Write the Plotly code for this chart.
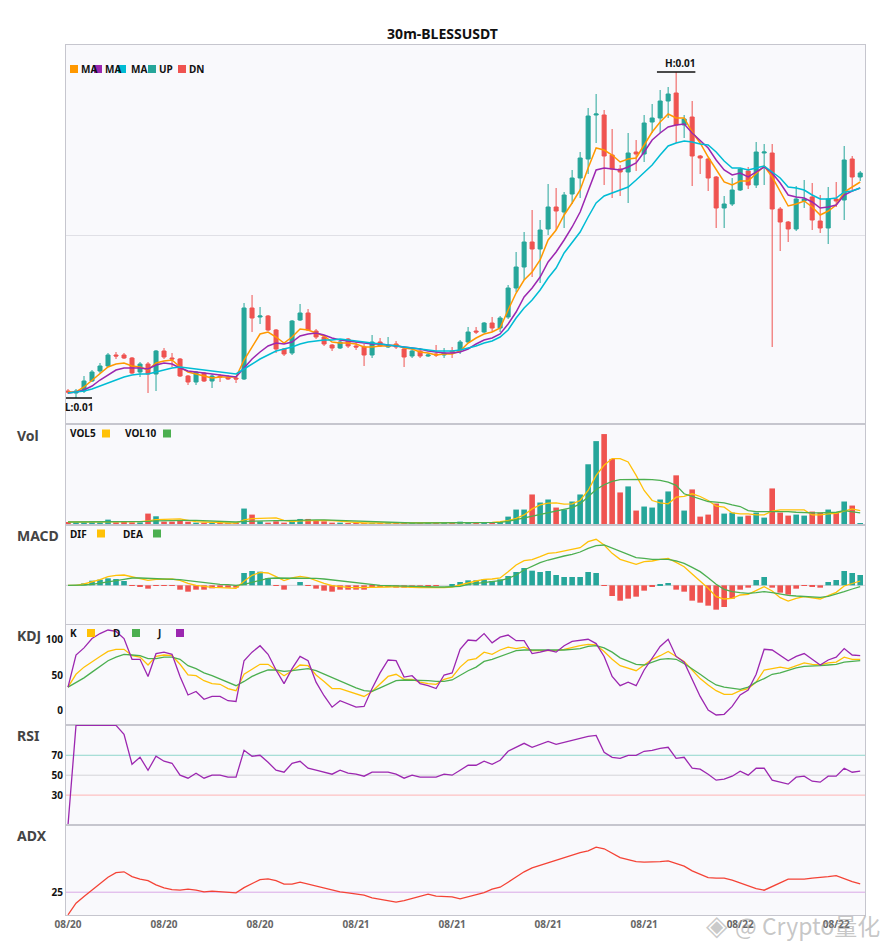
import numpy as np
import plotly.graph_objects as go
from plotly.subplots import make_subplots

# 30m candles of BLESSUSDT, prices in units of 1e-5
PRICE_UNIT = 1e-5

open_e5 = [961, 959, 961, 971, 981, 986, 997, 997, 994, 980,
           988, 978, 1001, 994, 993, 976, 970, 979, 971, 976,
           975, 974, 973, 1044, 1035, 1036, 1022, 1003, 999, 1032,
           1039, 1021, 1015, 1007, 1004, 1013, 1006, 1005, 997, 1010,
           1005, 1008, 1003, 996, 1001, 996, 998, 997, 1001, 1002,
           1010, 1021, 1020, 1029, 1024, 1035, 1064, 1085, 1110, 1103,
           1123, 1145, 1140, 1158, 1174, 1193, 1237, 1237, 1197, 1183,
           1180, 1200, 1198, 1230, 1234, 1251, 1259, 1227, 1235, 1196,
           1193, 1175, 1144, 1148, 1162, 1181, 1167, 1199, 1199, 1143,
           1130, 1123, 1151, 1155, 1131, 1124, 1153, 1152, 1193, 1175]
high_e5 = [963, 963, 976, 982, 989, 999, 1000, 999, 995, 990,
           990, 1002, 1004, 999, 994, 977, 981, 980, 978, 978,
           977, 976, 1049, 1057, 1045, 1037, 1023, 1004, 1032, 1048,
           1043, 1023, 1016, 1008, 1012, 1014, 1010, 1008, 1017, 1014,
           1015, 1011, 1005, 1003, 1004, 999, 1007, 1004, 1005, 1012,
           1025, 1025, 1030, 1035, 1036, 1067, 1100, 1120, 1142, 1132,
           1168, 1164, 1160, 1182, 1200, 1244, 1258, 1242, 1223, 1187,
           1219, 1212, 1237, 1248, 1262, 1265, 1280, 1237, 1251, 1197,
           1194, 1176, 1156, 1174, 1184, 1185, 1210, 1208, 1208, 1145,
           1131, 1166, 1172, 1169, 1157, 1165, 1170, 1206, 1196, 1181]
low_e5 = [958, 954, 959, 970, 979, 985, 993, 993, 978, 975,
          959, 961, 993, 985, 975, 967, 967, 970, 964, 970,
          972, 969, 972, 1020, 1028, 1021, 999, 996, 997, 1031,
          1021, 1013, 1006, 1001, 1003, 1004, 1002, 986, 994, 1005,
          1004, 1003, 985, 994, 994, 995, 995, 994, 994, 998,
          1009, 1018, 1019, 1020, 1020, 1033, 1060, 1072, 1075, 1069,
          1117, 1122, 1124, 1148, 1154, 1178, 1209, 1167, 1154, 1156,
          1149, 1181, 1190, 1219, 1219, 1234, 1209, 1214, 1166, 1178,
          1161, 1124, 1124, 1146, 1161, 1163, 1164, 1167, 1005, 1101,
          1110, 1121, 1144, 1122, 1119, 1108, 1145, 1132, 1162, 1171]
close_e5 = [960, 961, 971, 980, 986, 997, 996, 994, 979, 988,
            978, 1001, 995, 993, 976, 970, 980, 971, 976, 975,
            973, 973, 1044, 1034, 1036, 1022, 1003, 998, 1031, 1039,
            1022, 1015, 1008, 1004, 1010, 1006, 1005, 997, 1010, 1006,
            1006, 1005, 995, 1001, 996, 997, 997, 999, 1000, 1010,
            1020, 1020, 1029, 1024, 1034, 1064, 1085, 1110, 1103, 1122,
            1145, 1141, 1157, 1174, 1194, 1236, 1238, 1196, 1183, 1180,
            1199, 1198, 1229, 1234, 1251, 1258, 1227, 1233, 1196, 1194,
            1174, 1144, 1148, 1162, 1183, 1167, 1200, 1200, 1143, 1130,
            1123, 1153, 1153, 1132, 1124, 1153, 1151, 1192, 1175, 1179]

ma_a_e5 = [960, 960, 965, 972, 979, 985, 988, 989, 986, 985,
           982, 989, 991, 992, 985, 980, 978, 976, 974, 975,
           975, 975, 992, 1005, 1018, 1020, 1015, 1009, 1015, 1023,
           1022, 1019, 1016, 1010, 1009, 1009, 1008, 1005, 1005, 1006,
           1006, 1007, 1004, 1003, 1000, 999, 997, 998, 998, 1001,
           1009, 1014, 1018, 1020, 1024, 1042, 1059, 1072, 1080, 1092,
           1112, 1122, 1137, 1149, 1162, 1184, 1204, 1202, 1197, 1190,
           1193, 1194, 1207, 1220, 1230, 1238, 1234, 1234, 1220, 1209,
           1195, 1182, 1170, 1167, 1171, 1171, 1179, 1186, 1175, 1160,
           1146, 1148, 1151, 1145, 1137, 1141, 1147, 1160, 1165, 1170]
ma_b_e5 = [959, 960, 962, 966, 972, 977, 982, 984, 984, 984,
           983, 987, 989, 988, 984, 981, 980, 979, 978, 977,
           976, 975, 984, 993, 1000, 1006, 1009, 1008, 1010, 1016,
           1018, 1019, 1017, 1014, 1012, 1011, 1010, 1009, 1008, 1008,
           1007, 1006, 1005, 1004, 1003, 1001, 1000, 999, 999, 1000,
           1003, 1008, 1012, 1014, 1018, 1028, 1040, 1055, 1064, 1075,
           1090, 1100, 1112, 1125, 1140, 1160, 1182, 1184, 1183, 1182,
           1185, 1189, 1200, 1212, 1219, 1225, 1227, 1228, 1219, 1211,
           1204, 1192, 1182, 1177, 1179, 1175, 1180, 1185, 1179, 1169,
           1157, 1155, 1154, 1150, 1144, 1145, 1147, 1157, 1161, 1164]
ma_c_e5 = [959, 960, 961, 963, 966, 969, 972, 975, 977, 978,
           978, 980, 982, 984, 985, 984, 983, 982, 981, 980,
           979, 978, 983, 988, 993, 997, 1001, 1003, 1005, 1008,
           1010, 1011, 1012, 1012, 1013, 1012, 1011, 1010, 1009, 1008,
           1007, 1006, 1005, 1004, 1003, 1002, 1001, 1001, 1001, 1002,
           1004, 1006, 1009, 1011, 1015, 1022, 1034, 1044, 1052, 1062,
           1074, 1084, 1099, 1109, 1120, 1135, 1149, 1156, 1159, 1162,
           1165, 1172, 1180, 1187, 1197, 1206, 1209, 1211, 1210, 1208,
           1207, 1200, 1191, 1184, 1184, 1182, 1184, 1186, 1180, 1174,
           1165, 1164, 1162, 1157, 1153, 1153, 1154, 1160, 1161, 1164]

volume = [9, 8, 8, 8, 8, 16, 8, 9, 8, 8,
          34, 26, 10, 10, 12, 10, 7, 7, 7, 5,
          5, 5, 49, 31, 11, 7, 11, 7, 12, 18,
          18, 12, 11, 7, 7, 5, 5, 5, 5, 5,
          5, 5, 9, 5, 5, 5, 9, 5, 9, 10,
          9, 5, 9, 5, 9, 25, 46, 46, 91, 67,
          76, 52, 46, 70, 91, 181, 250, 271, 197, 97,
          115, 43, 55, 52, 76, 100, 148, 43, 106, 25,
          31, 64, 34, 37, 25, 28, 37, 22, 109, 37,
          28, 31, 28, 40, 37, 46, 37, 70, 58, 4]
vol5 = [9, 9, 9, 8, 8, 10, 10, 10, 10, 10,
        12, 16, 17, 17, 18, 14, 10, 9, 9, 7,
        6, 6, 15, 19, 20, 20, 21, 14, 10, 12,
        13, 13, 14, 13, 11, 8, 7, 6, 6, 6,
        6, 6, 6, 6, 6, 6, 7, 7, 7, 8,
        8, 8, 8, 8, 10, 13, 20, 30, 48, 60,
        65, 66, 62, 63, 73, 103, 148, 178, 198, 198,
        188, 148, 103, 73, 66, 63, 83, 85, 93, 85,
        73, 56, 53, 36, 33, 33, 30, 30, 41, 45,
        45, 45, 45, 30, 30, 33, 35, 41, 48, 43]
vol10 = [9, 9, 9, 9, 9, 9, 9, 9, 9, 9,
         11, 12, 13, 13, 14, 14, 14, 13, 13, 12,
         10, 9, 11, 12, 13, 13, 13, 13, 14, 15,
         15, 15, 15, 14, 14, 13, 12, 11, 9, 8,
         7, 6, 6, 6, 6, 6, 6, 6, 7, 7,
         7, 7, 7, 7, 8, 11, 16, 20, 26, 32,
         36, 42, 46, 52, 63, 86, 106, 120, 130, 135,
         136, 136, 136, 135, 133, 128, 118, 93, 86, 78,
         70, 68, 66, 60, 55, 43, 40, 40, 40, 41,
         40, 38, 36, 36, 36, 38, 38, 43, 40, 36]

macd_hist = [0, 0, 6, 14, 17, 21, 19, 13, -2, -4,
             -10, -1, -1, -1, -13, -19, -13, -13, -9, -7,
             -7, -7, 37, 43, 41, 22, -2, -13, 0, 10,
             -2, -10, -16, -19, -13, -13, -13, -13, -4, -4,
             -4, -7, -7, -7, -7, -4, -2, 0, 3, 10,
             15, 15, 18, 13, 18, 28, 40, 52, 44, 40,
             43, 31, 25, 25, 25, 40, 37, -2, -32, -46,
             -40, -34, -16, -5, 4, 7, -13, -19, -46, -52,
             -61, -73, -65, -40, -13, -7, 16, 25, -7, -22,
             -28, -10, -1, -4, -7, 10, 16, 43, 37, 31]
dif = [0, 0, 4, 10, 17, 26, 30, 31, 25, 20,
       15, 18, 19, 19, 15, 6, 0, -4, -6, -7,
       -8, -9, 12, 30, 39, 37, 26, 14, 22, 27,
       23, 14, 6, -1, -4, -6, -7, -7, -7, -6,
       -5, -4, -4, -6, -7, -7, -8, -7, -5, 2,
       7, 13, 18, 19, 22, 41, 61, 74, 77, 86,
       96, 98, 103, 108, 113, 131, 138, 121, 96, 78,
       70, 63, 71, 73, 78, 81, 69, 56, 34, 13,
       -9, -34, -41, -39, -29, -27, -15, -4, -17, -37,
       -47, -39, -34, -37, -41, -31, -21, -2, 5, 13]
dea = [0, 0, 1, 3, 6, 10, 14, 18, 22, 22,
       21, 20, 19, 19, 17, 14, 11, 8, 5, 3,
       2, 0, 3, 9, 17, 21, 22, 22, 22, 22,
       22, 21, 19, 16, 13, 10, 7, 4, 2, 0,
       -1, -2, -3, -3, -4, -5, -5, -5, -5, -3,
       3, 6, 9, 11, 14, 21, 31, 46, 58, 68,
       76, 83, 88, 93, 100, 111, 119, 121, 111, 101,
       91, 83, 81, 78, 78, 78, 73, 66, 54, 41,
       23, 3, -12, -19, -22, -24, -22, -19, -22, -27,
       -30, -32, -34, -35, -36, -33, -27, -19, -11, -4]

kdj_k = [33, 51, 61, 69, 76, 83, 86, 86, 77, 75,
         64, 76, 78, 77, 65, 50, 49, 42, 38, 37,
         31, 28, 51, 58, 65, 65, 57, 49, 56, 64,
         63, 50, 41, 31, 31, 27, 23, 20, 27, 37,
         48, 51, 44, 44, 40, 38, 37, 44, 47, 61,
         71, 73, 82, 79, 85, 89, 87, 89, 84, 84,
         84, 84, 86, 89, 91, 93, 92, 83, 72, 63,
         59, 56, 64, 72, 77, 83, 76, 69, 57, 45,
         36, 28, 23, 23, 28, 31, 40, 57, 59, 61,
         59, 63, 67, 65, 64, 67, 68, 75, 72, 72]
kdj_d = [33, 39, 46, 54, 62, 70, 75, 79, 78, 77,
         73, 73, 75, 75, 72, 63, 59, 53, 49, 44,
         40, 35, 41, 48, 53, 57, 57, 55, 56, 58,
         59, 56, 51, 46, 42, 37, 32, 28, 27, 32,
         37, 42, 43, 43, 43, 42, 41, 41, 43, 50,
         56, 61, 69, 72, 76, 80, 84, 85, 85, 85,
         85, 84, 85, 86, 87, 90, 91, 88, 82, 74,
         69, 65, 64, 68, 72, 73, 72, 66, 59, 51,
         43, 36, 33, 31, 30, 33, 40, 45, 51, 53,
         57, 60, 62, 62, 63, 64, 65, 68, 69, 70]
kdj_j = [33, 78, 88, 101, 108, 113, 111, 101, 72, 72,
         48, 80, 82, 79, 48, 22, 27, 16, 20, 20,
         14, 13, 70, 82, 91, 79, 57, 38, 59, 76,
         70, 40, 21, 5, 14, 10, 5, 6, 31, 53,
         71, 70, 47, 49, 38, 35, 31, 50, 53, 86,
         99, 98, 108, 95, 103, 106, 98, 98, 80, 82,
         85, 82, 91, 97, 99, 100, 94, 76, 48, 35,
         40, 35, 57, 73, 90, 100, 76, 68, 43, 20,
         1, -6, -5, 6, 22, 29, 51, 86, 85, 78,
         70, 76, 80, 72, 64, 71, 75, 87, 78, 77]

rsi = [0, 100, 100, 100, 100, 100, 100, 91, 61, 68,
       55, 69, 64, 62, 50, 47, 52, 47, 50, 50,
       48, 48, 75, 69, 70, 63, 55, 53, 62, 64,
       57, 55, 53, 51, 55, 52, 51, 49, 53, 53,
       53, 51, 47, 50, 48, 48, 48, 51, 50, 55,
       60, 60, 64, 61, 65, 74, 78, 82, 78, 81,
       84, 81, 83, 85, 87, 89, 90, 73, 68, 67,
       70, 70, 74, 75, 77, 78, 67, 68, 57, 56,
       51, 45, 46, 49, 54, 50, 57, 57, 45, 43,
       41, 48, 49, 44, 43, 49, 49, 57, 53, 54]

adx = [13.7, 19.5, 22.8, 26.2, 29.5, 32.5, 34.8, 35.2, 32.8, 31.5,
       30.8, 28.7, 27.2, 26.3, 26.0, 26.5, 26.0, 25.2, 25.5, 25.2,
       24.7, 24.7, 27.3, 29.5, 31.3, 31.7, 30.8, 29.0, 29.0, 30.0,
       29.0, 28.3, 27.0, 26.0, 25.2, 24.7, 24.2, 23.5, 22.2, 21.5,
       20.5, 20.0, 20.8, 21.8, 22.8, 24.0, 23.0, 22.7, 22.7, 21.7,
       22.8, 23.8, 24.8, 26.5, 27.5, 30.0, 32.7, 35.2, 37.2, 38.5,
       39.8, 41.2, 42.5, 43.8, 44.8, 45.7, 47.5, 46.7, 44.3, 42.3,
       41.3, 40.3, 40.0, 40.0, 40.3, 40.7, 39.2, 38.0, 35.7, 33.8,
       32.3, 32.0, 32.0, 31.0, 29.5, 28.3, 26.8, 26.0, 27.8, 29.8,
       31.5, 31.5, 31.5, 32.0, 32.3, 32.8, 33.3, 31.7, 30.3, 29.2]

# one label every 12 candles (6 hours)
tick_text = ["08/20", "08/20", "08/20", "08/21", "08/21",
             "08/21", "08/21", "08/22", "08/22"]

UP = "#26a69a"
DN = "#ef5350"
FONT = "Noto Sans"

o = np.array(open_e5) * PRICE_UNIT
h = np.array(high_e5) * PRICE_UNIT
l = np.array(low_e5) * PRICE_UNIT
c = np.array(close_e5) * PRICE_UNIT
x = list(range(len(c)))
tick_vals = list(range(0, len(c), 12))[:len(tick_text)]

# plot area in pixels: x 66..865, y 45..915
def px(v):
    return (v - 66) / 799.0

def py(v):
    return (915 - v) / 870.0

fig = make_subplots(rows=6, cols=1, shared_xaxes=True, vertical_spacing=0,
                    row_heights=[379, 101, 100, 100, 100, 90])

fig.add_trace(go.Candlestick(
    x=x, open=o, high=h, low=l, close=c, whiskerwidth=0,
    increasing=dict(line=dict(color=UP, width=1), fillcolor=UP),
    decreasing=dict(line=dict(color=DN, width=1), fillcolor=DN)), row=1, col=1)
for arr, col in [(ma_a_e5, "#ff9800"), (ma_b_e5, "#9c27b0"), (ma_c_e5, "#00bcd4")]:
    fig.add_trace(go.Scatter(x=x, y=np.array(arr) * PRICE_UNIT, mode="lines",
                             line=dict(color=col, width=1.5)), row=1, col=1)

vol_colors = [UP if cc >= oo else DN for oo, cc in zip(open_e5, close_e5)]
fig.add_trace(go.Bar(x=x, y=volume, marker=dict(color=vol_colors, line_width=0)), row=2, col=1)
fig.add_trace(go.Scatter(x=x, y=vol5, mode="lines", line=dict(color="#ffc107", width=1.3)), row=2, col=1)
fig.add_trace(go.Scatter(x=x, y=vol10, mode="lines", line=dict(color="#4caf50", width=1.3)), row=2, col=1)

macd_colors = [UP if v >= 0 else DN for v in macd_hist]
fig.add_trace(go.Bar(x=x, y=macd_hist, marker=dict(color=macd_colors, line_width=0)), row=3, col=1)
fig.add_trace(go.Scatter(x=x, y=dif, mode="lines", line=dict(color="#ffc107", width=1.3)), row=3, col=1)
fig.add_trace(go.Scatter(x=x, y=dea, mode="lines", line=dict(color="#4caf50", width=1.3)), row=3, col=1)

fig.add_trace(go.Scatter(x=x, y=kdj_k, mode="lines", line=dict(color="#ffc107", width=1.3)), row=4, col=1)
fig.add_trace(go.Scatter(x=x, y=kdj_d, mode="lines", line=dict(color="#4caf50", width=1.3)), row=4, col=1)
fig.add_trace(go.Scatter(x=x, y=kdj_j, mode="lines", line=dict(color="#9c27b0", width=1.3)), row=4, col=1)

fig.add_trace(go.Scatter(x=x, y=rsi, mode="lines", line=dict(color="#9c27b0", width=1.3)), row=5, col=1)
fig.add_trace(go.Scatter(x=x, y=adx, mode="lines", line=dict(color="#f44336", width=1.3)), row=6, col=1)

# reference levels
for row, lvl, col in [(3, 0, "#d4d4d8"),
                      (4, 100, "#8fd6cc"), (4, 50, "#d4d4d8"), (4, 0, "#ffb4b4"),
                      (5, 70, "#8fd6cc"), (5, 50, "#d4d4d8"), (5, 30, "#ffb4b4"),
                      (6, 25, "#d9a9e6")]:
    fig.add_hline(y=lvl, row=row, col=1, line_color=col, line_width=1, layer="below")

fig.update_xaxes(range=[-0.25, 99.6], rangeslider_visible=False, showgrid=False,
                 zeroline=False, showline=True, mirror=True, linecolor="#c6c6ce",
                 tickvals=tick_vals, ticktext=tick_text, ticks="",
                 tickfont=dict(family=FONT, size=10, color="#666", weight="bold"))

yax = dict(zeroline=False, showline=True, mirror=True, linecolor="#c6c6ce", ticks="",
           tickfont=dict(family=FONT, size=10, color="#111", weight="bold"))
fig.update_yaxes(range=[0.00928, 0.01307], tickvals=[0.01117], showticklabels=False,
                 showgrid=True, gridcolor="#e0e0e6", row=1, col=1, **yax)
fig.update_yaxes(range=[0, 301], showgrid=False, showticklabels=False, row=2, col=1, **yax)
fig.update_yaxes(range=[-119, 181], showgrid=False, showticklabels=False, row=3, col=1, **yax)
fig.update_yaxes(range=[-20, 120], tickvals=[0, 50, 100], showgrid=False, row=4, col=1, **yax)
fig.update_yaxes(range=[0, 100.4], tickvals=[30, 50, 70], showgrid=False, row=5, col=1, **yax)
fig.update_yaxes(range=[13.6, 58.6], tickvals=[25], showgrid=False, row=6, col=1, **yax)

ann = []

# panel names
for name, yc in [("Vol", 435), ("MACD", 535), ("KDJ", 635), ("RSI", 735), ("ADX", 835)]:
    ann.append(dict(text=name, x=px(15), y=py(yc), xref="paper", yref="paper",
                    xanchor="left", yanchor="middle", showarrow=False,
                    font=dict(family=FONT, size=14, color="#444", weight="bold")))

# legends: (label, text x, square x, y centre, colour)
legend_items = [
    ("MA", 79, 70, 69, "#ff9800"), ("MA", 103, 94, 69, "#9c27b0"),
    ("MA", 129, 118, 69, "#00bcd4"), ("UP", 157, 148, 69, UP), ("DN", 187, 178, 69, DN),
    ("VOL5", 68, 102, 433.5, "#ffc107"), ("VOL10", 123, 163, 433.5, "#4caf50"),
    ("DIF", 68, 97, 533.5, "#ffc107"), ("DEA", 121, 153, 533.5, "#4caf50"),
    ("K", 68, 87, 633, "#ffc107"), ("D", 111, 132, 633, "#4caf50"), ("J", 155, 176, 633, "#9c27b0"),
]
for label, tx, sx, yc, col in legend_items:
    ann.append(dict(text=label, x=px(tx), y=py(yc), xref="paper", yref="paper",
                    xanchor="left", yanchor="middle", showarrow=False,
                    font=dict(family=FONT, size=10, color="#111", weight="bold")))
    fig.add_shape(type="rect", xref="paper", yref="paper", x0=px(sx), x1=px(sx + 8),
                  y0=py(yc + 4), y1=py(yc - 4), fillcolor=col, line_width=0)

# highest high / lowest low markers
hi_i = int(np.argmax(h))
lo_i = int(np.argmin(l))
fig.add_shape(type="line", xref="x", yref="y", x0=hi_i - 2.4, x1=hi_i + 2.4,
              y0=h[hi_i], y1=h[hi_i], line=dict(color="#111", width=1.5))
ann.append(dict(text=f"H:{h[hi_i]:.2f}", x=hi_i + 0.5, y=h[hi_i], xref="x", yref="y",
                xanchor="center", yanchor="bottom", showarrow=False,
                font=dict(family=FONT, size=10, color="#111", weight="bold")))
fig.add_shape(type="line", xref="x", yref="y", x0=lo_i - 2.6, x1=lo_i + 2.0,
              y0=l[lo_i], y1=l[lo_i], line=dict(color="#111", width=1.5))
ann.append(dict(text=f"L:{l[lo_i]:.2f}", x=lo_i + 0.4, y=l[lo_i], xref="x", yref="y",
                xanchor="center", yanchor="top", showarrow=False,
                font=dict(family=FONT, size=10, color="#111", weight="bold")))

# watermark
ann.append(dict(text="◈", x=px(717), y=py(925), xref="paper", yref="paper",
                xanchor="center", yanchor="middle", showarrow=False,
                font=dict(family="DejaVu Sans", size=28, color="rgba(150,150,150,0.5)")))
ann.append(dict(text="@ Crypto量化", x=px(733), y=py(925), xref="paper", yref="paper",
                xanchor="left", yanchor="middle", showarrow=False,
                font=dict(family="Noto Sans CJK SC", size=23, color="rgba(150,150,150,0.55)")))

fig.update_layout(
    width=885, height=950,
    margin=dict(l=66, r=20, t=45, b=35),
    paper_bgcolor="white", plot_bgcolor="#f9f9fc",
    font=dict(family=FONT),
    title=dict(text="<b>30m-BLESSUSDT</b>", x=0.5, xref="container", xanchor="center",
               y=1 - 34 / 950, yref="container", yanchor="middle",
               font=dict(family=FONT, size=14, color="#111")),
    showlegend=False, bargap=0.3, boxgap=0.28,
    annotations=ann,
)

fig.write_html("out.html", config={"displayModeBar": False},
               post_script="document.body.style.margin='0';")
